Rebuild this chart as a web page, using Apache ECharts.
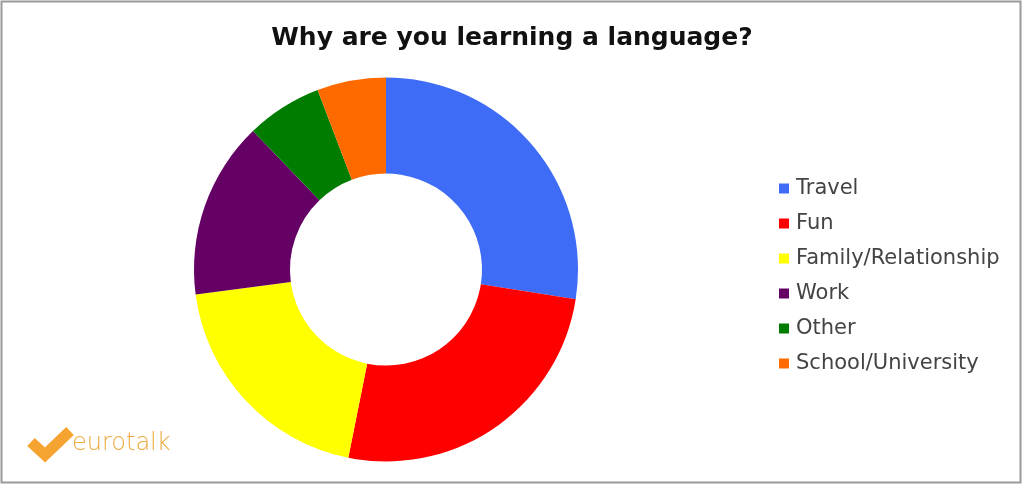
<!DOCTYPE html>
<html>
<head>
<meta charset="utf-8">
<script src="https://cdn.jsdelivr.net/npm/echarts@6/dist/echarts.min.js"></script>
<style>
html,body{margin:0;padding:0;background:#fff;}
#chart{width:1024px;height:487px;}
</style>
</head>
<body>
<div id="chart"></div>
<script>
const categories = ['Travel', 'Fun', 'Family/Relationship', 'Work', 'Other', 'School/University'];
const values = [27.5, 25.7, 19.8, 14.9, 6.4, 5.8];
const colors = ['#3e6cf6', '#fe0000', '#ffff00', '#650065', '#007d00', '#ff6a00'];
const titleText = 'Why are you learning a language?';

const chart = echarts.init(document.getElementById('chart'), null, {renderer: 'canvas'});
chart.setOption({
  animation: false,
  backgroundColor: '#ffffff',
  title: {
    text: titleText,
    left: 'center',
    top: 21,
    textStyle: {fontFamily: 'DejaVu Sans', fontWeight: 'bold', fontSize: 25, color: '#111'}
  },
  legend: {
    orient: 'vertical',
    left: 774,
    top: 173,
    icon: 'rect',
    itemWidth: 10,
    itemHeight: 10,
    itemGap: 14,
    textStyle: {fontFamily: 'DejaVu Sans', fontWeight: 'normal', fontSize: 21, color: '#444', lineHeight: 21, padding: [0, 0, 0, 2]},
    data: categories
  },
  graphic: [
    {type: 'rect', shape: {x: 1.5, y: 1.5, width: 1019, height: 481}, style: {fill: 'none', stroke: '#9a9a9a', lineWidth: 2}},
    {type: 'polyline', shape: {points: [[31, 442], [45, 455], [70, 431]]}, style: {fill: 'none', stroke: '#f6a431', lineWidth: 11}},
    {type: 'text', left: 72, top: 432, style: {text: 'eurotalk', fontFamily: 'DejaVu Sans', fontWeight: 300, fontSize: 24, fill: '#eeaa40'}}
  ],
  series: [{
    type: 'pie',
    center: [386, 269.5],
    radius: [96, 192],
    startAngle: 90,
    clockwise: true,
    label: {show: false},
    labelLine: {show: false},
    emphasis: {disabled: true},
    itemStyle: {borderWidth: 0},
    data: categories.map((c, i) => ({name: c, value: values[i], itemStyle: {color: colors[i]}}))
  }]
});
</script>
</body>
</html>
